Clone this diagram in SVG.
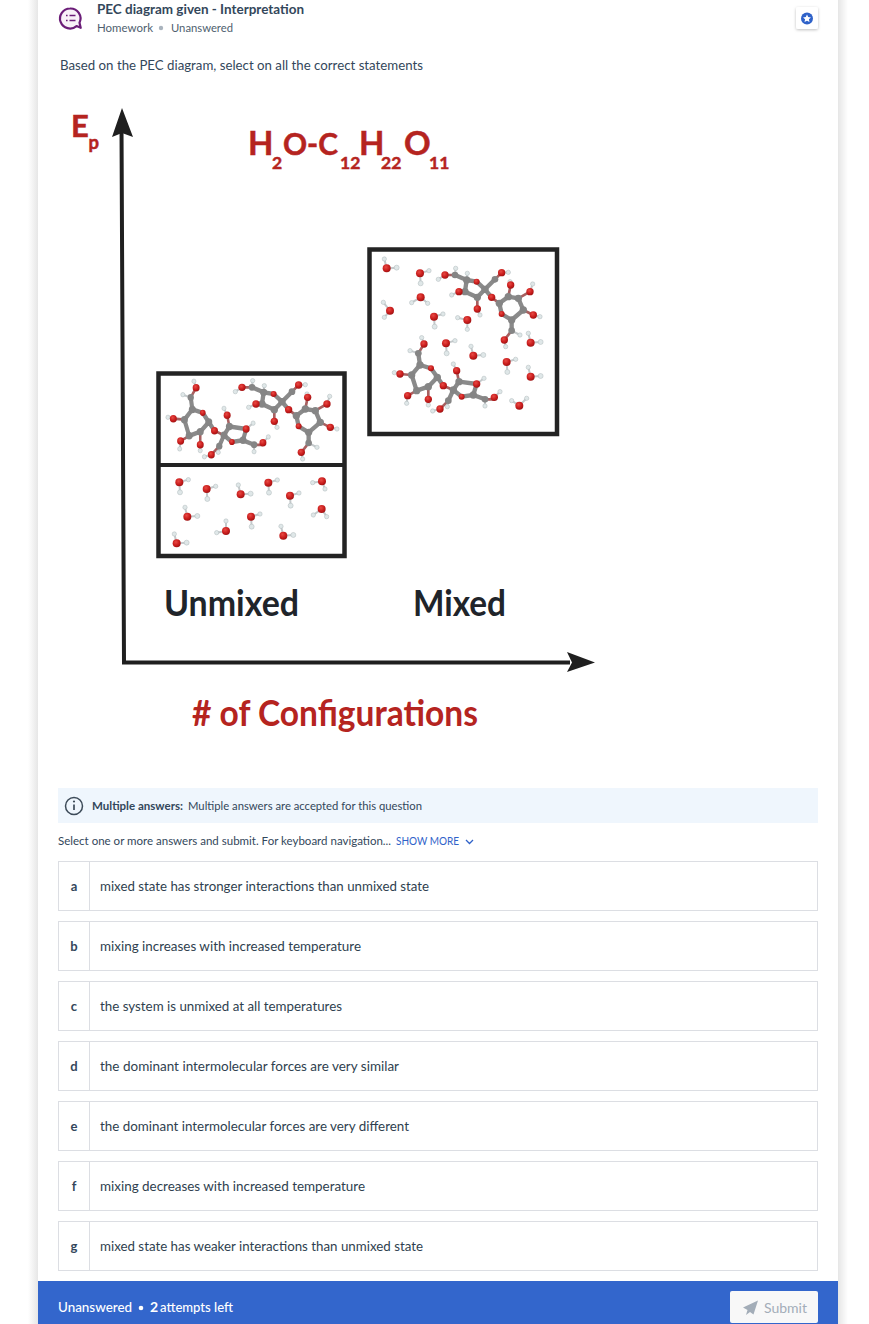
<svg xmlns="http://www.w3.org/2000/svg" width="869" height="1324" viewBox="0 0 869 1324">
<style>
text{font-family:Lato,"Noto Sans","Liberation Sans",sans-serif;fill:#33475b}
.fig{font-family:Lato,"Liberation Sans",sans-serif;font-weight:700;fill:#b5241f}
.hv{stroke:#b5241f;stroke-width:.5}
.ans{font-size:14px;fill:#2f3f4f}
.let{font-size:13px;font-weight:700;text-anchor:middle;fill:#33475b}
.row{fill:#fff;stroke:#dcdee3;stroke-width:1}
.div{stroke:#dcdee3;stroke-width:1}
.box{fill:#fff;stroke:#232323;stroke-width:4.5}
.axis{stroke:#1f1f1f;stroke-width:4;fill:none}
.bond{stroke:#8a8a8a;stroke-width:13;fill:none;stroke-linecap:round;stroke-linejoin:round}
.hb{stroke:#c4c9cb;stroke-width:6;fill:none}
.o{fill:url(#red)}
.c{fill:#858585}
.h{fill:#dfe7e8;stroke:#aeb8ba;stroke-width:1.500}
</style>
<defs>
<radialGradient id="red" cx=".4" cy=".35" r=".7"><stop offset="0" stop-color="#e84a44"/><stop offset=".6" stop-color="#c81c1c"/><stop offset="1" stop-color="#9a1414"/></radialGradient>
<linearGradient id="shL" x1="0" x2="1"><stop offset="0" stop-color="#fff"/><stop offset="1" stop-color="#e6e6e6"/></linearGradient>
<linearGradient id="shR" x1="0" x2="1"><stop offset="0" stop-color="#e6e6e6"/><stop offset="1" stop-color="#fff"/></linearGradient>
<filter id="soft" x="-5%" y="-5%" width="110%" height="110%"><feGaussianBlur stdDeviation="0.55"/></filter>
<filter id="sh" x="-30%" y="-30%" width="160%" height="160%"><feDropShadow dx="0" dy="1" stdDeviation="1.5" flood-color="#000" flood-opacity=".25"/></filter>
<g id="sucA">
<path class="hb" d="M285 105L287 85M255 105L235 118M320 120L322 100M425 98L445 97M297 155L275 165M352 207L360 225M452 135L450 125M510 155L518 132M520 225L540 230M433 300L437 320M455 272L480 285"/>
<path class="bond" d="M285 105L320 120L350 125L375 148L352 172L315 155L320 120M375 148L405 118M375 148L395 172M418 190L425 222L455 240L490 210L475 175L445 170L418 190M455 240V272"/>
<path d="M255 105H285M405 118L425 98M315 155L297 155M352 172V207M395 172L418 190M445 170L452 135M475 175L510 155M490 210L520 225M455 272L433 300" stroke="#a86060" stroke-width="8" fill="none"/>
<circle class="h" cx="287" cy="85" r="6.500"/><circle class="h" cx="235" cy="118" r="6.500"/><circle class="h" cx="322" cy="100" r="6.500"/><circle class="h" cx="445" cy="97" r="6.500"/><circle class="h" cx="275" cy="165" r="6.500"/><circle class="h" cx="360" cy="225" r="6.500"/><circle class="h" cx="450" cy="125" r="6.500"/><circle class="h" cx="518" cy="132" r="6.500"/><circle class="h" cx="540" cy="230" r="6.500"/><circle class="h" cx="437" cy="320" r="6.500"/><circle class="h" cx="480" cy="285" r="6.500"/>
<circle class="c" cx="285" cy="105" r="10"/><circle class="c" cx="320" cy="120" r="11"/><circle class="c" cx="375" cy="148" r="11"/><circle class="c" cx="352" cy="172" r="11"/><circle class="c" cx="315" cy="155" r="11"/><circle class="c" cx="405" cy="118" r="10"/><circle class="c" cx="418" cy="190" r="11"/><circle class="c" cx="455" cy="240" r="11"/><circle class="c" cx="490" cy="210" r="11"/><circle class="c" cx="475" cy="175" r="11"/><circle class="c" cx="445" cy="170" r="11"/><circle class="c" cx="455" cy="272" r="10"/>
<circle class="o" cx="255" cy="105" r="11"/><circle class="o" cx="350" cy="125" r="9"/><circle class="o" cx="425" cy="98" r="11"/><circle class="o" cx="297" cy="155" r="11"/><circle class="o" cx="352" cy="207" r="11"/><circle class="o" cx="395" cy="172" r="11"/><circle class="o" cx="425" cy="222" r="9"/><circle class="o" cx="452" cy="135" r="11"/><circle class="o" cx="510" cy="155" r="11"/><circle class="o" cx="520" cy="225" r="11"/><circle class="o" cx="433" cy="300" r="11"/>
</g>
<g id="sucB">
<path class="hb" d="M192 312L185 293M175 340L150 332M120 402L103 398M143 467L140 490M205 478L205 495M290 392L280 372M240 507L218 513M403 472L420 455M265 482L262 500M375 478L375 498M350 432L372 415"/>
<path class="bond" d="M175 340L180 375L213 385L232 412L205 440L170 452L155 405L180 375M232 412L250 437M280 450L305 470L340 465L350 432L297 425L280 450L265 482M340 465L375 478"/>
<path d="M192 312L175 340M155 405L120 402M170 452L143 467M205 440V478M250 437L280 450M265 482L240 507M297 425L290 392M375 478H403" stroke="#a86060" stroke-width="8" fill="none"/>
<circle class="h" cx="185" cy="293" r="6.500"/><circle class="h" cx="150" cy="332" r="6.500"/><circle class="h" cx="103" cy="398" r="6.500"/><circle class="h" cx="140" cy="490" r="6.500"/><circle class="h" cx="205" cy="495" r="6.500"/><circle class="h" cx="280" cy="372" r="6.500"/><circle class="h" cx="218" cy="513" r="6.500"/><circle class="h" cx="420" cy="455" r="6.500"/><circle class="h" cx="262" cy="500" r="6.500"/><circle class="h" cx="375" cy="498" r="6.500"/><circle class="h" cx="372" cy="415" r="6.500"/>
<circle class="c" cx="175" cy="340" r="10"/><circle class="c" cx="180" cy="375" r="11"/><circle class="c" cx="232" cy="412" r="11"/><circle class="c" cx="205" cy="440" r="11"/><circle class="c" cx="170" cy="452" r="11"/><circle class="c" cx="155" cy="405" r="11"/><circle class="c" cx="280" cy="450" r="11"/><circle class="c" cx="340" cy="465" r="11"/><circle class="c" cx="297" cy="425" r="11"/><circle class="c" cx="265" cy="482" r="10"/><circle class="c" cx="375" cy="478" r="10"/>
<circle class="o" cx="192" cy="312" r="11"/><circle class="o" cx="213" cy="385" r="9"/><circle class="o" cx="120" cy="402" r="11"/><circle class="o" cx="143" cy="467" r="11"/><circle class="o" cx="205" cy="478" r="11"/><circle class="o" cx="250" cy="437" r="11"/><circle class="o" cx="305" cy="470" r="9"/><circle class="o" cx="350" cy="432" r="11"/><circle class="o" cx="290" cy="392" r="11"/><circle class="o" cx="240" cy="507" r="11"/><circle class="o" cx="403" cy="472" r="11"/>
</g>
<g id="wa"><path class="hb" d="M-7 -28L0 0L30 -2"/><circle class="h" cx="-7" cy="-28" r="6.500"/><circle class="h" cx="30" cy="-2" r="7.500"/><circle class="o" r="12"/></g>
<g id="wb"><path class="hb" d="M27 -8L0 0L2 30"/><circle class="h" cx="27" cy="-8" r="6.500"/><circle class="h" cx="2" cy="30" r="7.500"/><circle class="o" r="12"/></g>
<g id="wc"><path class="hb" d="M-28 4L0 0L9 23"/><circle class="h" cx="-28" cy="4" r="6.500"/><circle class="h" cx="9" cy="23" r="6.500"/><circle class="o" r="12"/></g>
<g id="wd"><path class="hb" d="M0 -30L0 0L-28 5"/><circle class="h" cy="-30" r="6.500"/><circle class="h" cx="-28" cy="5" r="6.500"/><circle class="o" r="12"/></g>
<g id="we"><path class="hb" d="M-25 18L0 0L15 23"/><circle class="h" cx="-25" cy="18" r="6.500"/><circle class="h" cx="15" cy="23" r="6.500"/><circle class="o" r="12"/></g>
<g id="wf"><path class="hb" d="M-27 16L0 0L21 18"/><circle class="h" cx="-27" cy="16" r="6.500"/><circle class="h" cx="21" cy="18" r="6.500"/><circle class="o" r="12"/></g>
<g id="wg"><path class="hb" d="M-20 -25L0 0L-17 20"/><circle class="h" cx="-20" cy="-25" r="6.500"/><circle class="h" cx="-17" cy="20" r="6.500"/><circle class="o" r="12"/></g>
<g id="wh"><path class="hb" d="M-29 -7L0 0L0 28"/><circle class="h" cx="-29" cy="-7" r="6.500"/><circle class="h" cy="28" r="6.500"/><circle class="o" r="12"/></g>
<g id="wi"><path class="hb" d="M-23 -15L0 0L22 -22"/><circle class="h" cx="-23" cy="-15" r="6.500"/><circle class="h" cx="22" cy="-22" r="6.500"/><circle class="o" r="12"/></g>
</defs>
<rect width="869" height="1324" fill="#fff"/>
<rect x="28" width="10" height="1324" fill="url(#shL)"/>
<rect x="838" width="10" height="1324" fill="url(#shR)"/>
<rect x="38" width="800" height="1324" fill="#fff"/>

<g id="header">
<path d="M70 8.500a10 10 0 1 0 6.500 17.600l4.200 1.700-1.200-5a10 10 0 0 0-9.500-14.300z" fill="#f8f1f8" stroke="#6b1d78" stroke-width="2.200" stroke-linejoin="round"/>
<path d="M66 15.500h1.600M66 20.500h1.600M69.500 15.500h6M69.500 20.500h6" stroke="#6b1d78" stroke-width="1.700" fill="none"/>
<text x="97" y="14" font-size="14" font-weight="700" textLength="207" lengthAdjust="spacingAndGlyphs">PEC diagram given - Interpretation</text>
<text x="97" y="32" font-size="12" style="fill:#4f5f6f" textLength="56" lengthAdjust="spacingAndGlyphs">Homework</text>
<circle cx="161" cy="28" r="2.200" fill="#aab4be"/>
<text x="171" y="32" font-size="12" style="fill:#4f5f6f" textLength="62" lengthAdjust="spacingAndGlyphs">Unanswered</text>
</g>
<g id="star-button">
<rect x="796" y="7" width="22" height="22" rx="2" fill="#fff" filter="url(#sh)"/>
<circle cx="807" cy="18.500" r="6" fill="#2f62c9"/>
<path d="M807 14.500l1.200 2.600 2.800.300-2.100 1.900.6 2.800-2.500-1.400-2.500 1.400.6-2.800-2.100-1.900 2.800-.300z" fill="#fff"/>
</g>
<g id="question"><text x="60" y="70" font-size="14" textLength="363" lengthAdjust="spacingAndGlyphs">Based on the PEC diagram, select on all the correct statements</text></g>

<g id="connectors">
<path class="axis" d="M121.500 128L124 662.500H570"/>
<path d="M122 108L133 137L122 133L112 137Z" fill="#1f1f1f"/>
<path d="M595 662.500L567 652L572 662.500L567 672Z" fill="#1f1f1f"/>
</g>

<g id="axis-labels">
<text class="fig hv" x="71" y="137" font-size="31">E</text>
<text class="fig hv" x="88.500" y="149" font-size="18.500">p</text>
<text class="fig" x="192" y="726" font-size="35.500" textLength="286" lengthAdjust="spacingAndGlyphs"># of Configurations</text>
</g>
<g id="formula">
<text class="fig hv" x="248" y="155" font-size="33">H</text>
<text class="fig hv" x="272" y="169" font-size="17.500">2</text>
<text class="fig hv" x="283" y="155" font-size="31" textLength="55" lengthAdjust="spacingAndGlyphs">O-C</text>
<text class="fig hv" x="340" y="169" font-size="17.500">12</text>
<text class="fig hv" x="359" y="155" font-size="33">H</text>
<text class="fig hv" x="381" y="169" font-size="17.500">22</text>
<text class="fig hv" x="404" y="155" font-size="33">O</text>
<text class="fig hv" x="429" y="169" font-size="17.500">11</text>
</g>

<g id="unmixed-state">
<rect class="box" x="158.500" y="373.500" width="186" height="182.500"/>
<path d="M158 465H345" stroke="#232323" stroke-width="4"/>
<g filter="url(#soft)">
<g transform="translate(150,365) scale(.3333)">
<use href="#sucB" transform="translate(-44,-253) scale(.95,1.03)"/>
<use href="#sucA" transform="translate(21,-38)"/>
<use href="#wb" x="88" y="352"/><use href="#wb" x="170" y="372"/><use href="#wb" x="355" y="353"/><use href="#wb" x="420" y="392"/><use href="#wb" x="303" y="455"/>
<use href="#wa" x="272" y="388"/><use href="#wa" x="112" y="455"/><use href="#wa" x="80" y="535"/><use href="#wa" x="400" y="512"/>
<use href="#wc" x="516" y="349"/><use href="#wd" x="228" y="498"/><use href="#we" x="515" y="432"/>
</g></g>
<text class="fig" style="fill:#20242a" x="164" y="616" font-size="35.500" textLength="135" lengthAdjust="spacingAndGlyphs">Unmixed</text>
</g>

<g id="mixed-state">
<rect class="box" x="369.500" y="249.500" width="187.500" height="184.500"/>
<g filter="url(#soft)">
<g transform="translate(360,240) scale(.3333)">
<use href="#sucA"/><use href="#sucB"/>
<use href="#wa" x="80" y="85"/><use href="#wa" x="340" y="347"/><use href="#wa" x="512" y="308"/><use href="#wa" x="512" y="410"/>
<use href="#wb" x="180" y="100"/><use href="#wb" x="222" y="230"/><use href="#wb" x="258" y="310"/><use href="#wb" x="440" y="366"/>
<use href="#wf" x="182" y="172"/><use href="#wg" x="90" y="212"/><use href="#wh" x="322" y="240"/><use href="#wi" x="478" y="497"/>
</g></g>
<text class="fig" style="fill:#20242a" x="413" y="616" font-size="35.500" textLength="93" lengthAdjust="spacingAndGlyphs">Mixed</text>
</g>

<g id="info-banner">
<rect x="58" y="788" width="760" height="35" fill="#eff6fd"/>
<circle cx="74" cy="806" r="8.500" fill="none" stroke="#3d4b59" stroke-width="1.500"/>
<path d="M74 804.500v5.500" stroke="#3d4b59" stroke-width="1.700"/><circle cx="74" cy="801.500" r="1.100" fill="#3d4b59"/>
<text x="92" y="810" font-size="11" font-weight="700" textLength="91" lengthAdjust="spacingAndGlyphs">Multiple answers:</text>
<text x="188" y="810" font-size="11" textLength="234" lengthAdjust="spacingAndGlyphs">Multiple answers are accepted for this question</text>
</g>
<g id="instructions">
<text x="58" y="845" font-size="11.500" textLength="333" lengthAdjust="spacingAndGlyphs">Select one or more answers and submit. For keyboard navigation...</text>
<text x="396" y="845" font-size="12" style="fill:#2f62c9" textLength="63" lengthAdjust="spacingAndGlyphs">SHOW MORE</text>
<path d="M466 840l3.500 3.500 3.500-3.500" fill="none" stroke="#2f62c9" stroke-width="1.300"/>
</g>

<g id="answer-a"><rect class="row" x="58.500" y="861.500" width="759" height="49"/><path class="div" d="M89.500 862V910"/><text class="let" x="74" y="891">a</text><text class="ans" x="100" y="891" textLength="329" lengthAdjust="spacingAndGlyphs">mixed state has stronger interactions than unmixed state</text></g>
<g id="answer-b"><rect class="row" x="58.500" y="921.500" width="759" height="49"/><path class="div" d="M89.500 922V970"/><text class="let" x="74" y="951">b</text><text class="ans" x="100" y="951" textLength="261" lengthAdjust="spacingAndGlyphs">mixing increases with increased temperature</text></g>
<g id="answer-c"><rect class="row" x="58.500" y="981.500" width="759" height="49"/><path class="div" d="M89.500 982V1030"/><text class="let" x="74" y="1011">c</text><text class="ans" x="100" y="1011" textLength="242" lengthAdjust="spacingAndGlyphs">the system is unmixed at all temperatures</text></g>
<g id="answer-d"><rect class="row" x="58.500" y="1041.500" width="759" height="49"/><path class="div" d="M89.500 1042V1090"/><text class="let" x="74" y="1071">d</text><text class="ans" x="100" y="1071" textLength="299" lengthAdjust="spacingAndGlyphs">the dominant intermolecular forces are very similar</text></g>
<g id="answer-e"><rect class="row" x="58.500" y="1101.500" width="759" height="49"/><path class="div" d="M89.500 1102V1150"/><text class="let" x="74" y="1131">e</text><text class="ans" x="100" y="1131" textLength="309" lengthAdjust="spacingAndGlyphs">the dominant intermolecular forces are very different</text></g>
<g id="answer-f"><rect class="row" x="58.500" y="1161.500" width="759" height="49"/><path class="div" d="M89.500 1162V1210"/><text class="let" x="74" y="1191">f</text><text class="ans" x="100" y="1191" textLength="265" lengthAdjust="spacingAndGlyphs">mixing decreases with increased temperature</text></g>
<g id="answer-g"><rect class="row" x="58.500" y="1221.500" width="759" height="49"/><path class="div" d="M89.500 1222V1270"/><text class="let" x="74" y="1251">g</text><text class="ans" x="100" y="1251" textLength="323" lengthAdjust="spacingAndGlyphs">mixed state has weaker interactions than unmixed state</text></g>

<g id="footer">
<rect x="38" y="1281" width="800" height="43" fill="#3366cc"/>
<text x="58" y="1312" font-size="14" font-weight="500" style="fill:#fff" textLength="74" lengthAdjust="spacingAndGlyphs">Unanswered</text>
<circle cx="141" cy="1308" r="2.300" fill="#fff"/>
<text x="150" y="1312" font-size="14" font-weight="700" style="fill:#fff">2</text>
<text x="160" y="1312" font-size="14" font-weight="500" style="fill:#fff" textLength="73" lengthAdjust="spacingAndGlyphs">attempts left</text>
<rect x="730" y="1291" width="88" height="32" rx="2" fill="#f8f8f8"/>
<path d="M758 1300.500L743 1307.500L747.500 1310L746 1315L750 1312L753.500 1314.500Z" fill="#a3adb8"/>
<text x="764" y="1313" font-size="14" style="fill:#a3adb8" textLength="43" lengthAdjust="spacingAndGlyphs">Submit</text>
</g>
</svg>
